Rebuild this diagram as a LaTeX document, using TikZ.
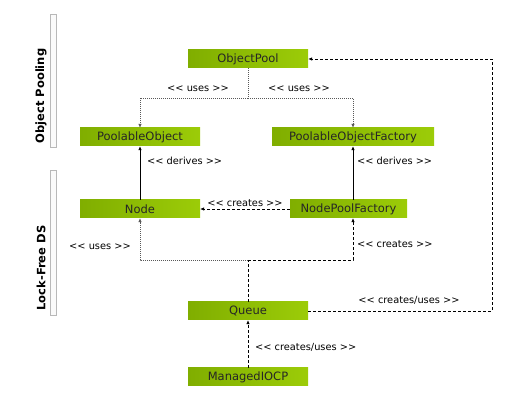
\documentclass[tikz,border=0pt]{standalone}
\usepackage{fontspec}
\setmainfont{DejaVu Sans}
\usetikzlibrary{arrows.meta}
\definecolor{BoxLeft}{RGB}{128,174,0}
\definecolor{BoxRight}{RGB}{156,204,8}
\definecolor{BarColor}{gray}{0.72}
\newcommand{\stereo}[1]{<{}< #1 >{}>}
\newcommand{\bxh}{18pt}
\tikzset{
    classbox/.style={minimum height=\bxh,minimum width=120pt,inner sep=0pt,left color=BoxLeft,right color=BoxRight,text=black!85,font=\fontsize{11.5}{12}\selectfont},
    stereolbl/.style={inner sep=1pt,font=\fontsize{9.8}{10}\selectfont},
    layerlbl/.style={rotate=90,inner sep=0pt,font=\bfseries\fontsize{11.5}{12}\selectfont},
    layerbar/.style={draw=BarColor,fill=gray!4,line width=0.8pt},
    headtip/.style={-{Latex[length=4pt,width=3.6pt]}},
    usesline/.style={headtip,gray!70!black,line width=0.7pt,dash pattern=on 0.7pt off 1.3pt},
    createsline/.style={headtip,line width=0.7pt,dash pattern=on 3pt off 2pt},
    derivesline/.style={headtip,line width=0.8pt}
}

\begin{document}
\begin{tikzpicture}[x=1pt,y=-1pt]
    \useasboundingbox (0,0) rectangle (512,414);    % Freeze the bounding box
    % --- --- --- Layers
    \draw[layerbar] (50,14) rectangle (56,147);
    \draw[layerbar] (50,170) rectangle (56,315);
    \node[layerlbl] (LPOOL) at (41,96) {Object Pooling};
    \node[layerlbl] (LFREE) at (41,268) {Lock-Free DS};
    % --- --- --- Classes
    \node[classbox] (OPOOL) at (248,59) {ObjectPool};
    \node[classbox] (POBJ) at (140,137) {PoolableObject};
    \node[classbox,minimum width=162pt] (POFAC) at (353,137) {PoolableObjectFactory};
    \node[classbox] (NODE) at (140,209) {Node};
    \node[classbox,minimum width=117pt] (NPFAC) at (348.5,209) {NodePoolFactory};
    \node[classbox] (QUEUE) at (248,311) {Queue};
    \node[classbox] (MIOCP) at (248,377) {ManagedIOCP};
    %
    \coordinate (JTOP) at (248,98);
    \coordinate (JMID) at (248,260);
    \coordinate (RIGHT) at (492,311);
    % === === === Connectors
    \draw[usesline] (OPOOL.south) -- (JTOP) -| (POBJ.north);
    \draw[usesline] (JTOP) -| (POFAC.north);
    \draw[derivesline] (NODE.north) -- (POBJ.south);
    \draw[derivesline] (NPFAC.north -| POFAC.south) -- (POFAC.south);
    \draw[createsline] (NPFAC.west) -- (NODE.east);
    \draw[createsline,-] (QUEUE.north) -- (JMID);
    \draw[usesline] (JMID) -| (NODE.south);
    \draw[createsline] (JMID) -| (NPFAC.south -| POFAC.south);
    \draw[createsline] (QUEUE.east) -- (RIGHT) |- (OPOOL.east);
    \draw[createsline] (MIOCP.north) -- (QUEUE.south);
    % === === === Stereotypes
    \node[stereolbl] (LUSESA) at (198,89) {\stereo{uses}};
    \node[stereolbl] (LUSESB) at (299,89) {\stereo{uses}};
    \node[stereolbl,anchor=west] (LDERA) at (146,161) {\stereo{derives}};
    \node[stereolbl,anchor=west] (LDERB) at (356,161) {\stereo{derives}};
    \node[stereolbl] (LCREA) at (245,203) {\stereo{creates}};
    \node[stereolbl] (LUSESC) at (100,247) {\stereo{uses}};
    \node[stereolbl,anchor=west] (LCREB) at (356,244) {\stereo{creates}};
    \node[stereolbl] (LCUA) at (409,300) {\stereo{creates/uses}};
    \node[stereolbl,anchor=west] (LCUB) at (254,347) {\stereo{creates/uses}};
\end{tikzpicture}
\end{document}
